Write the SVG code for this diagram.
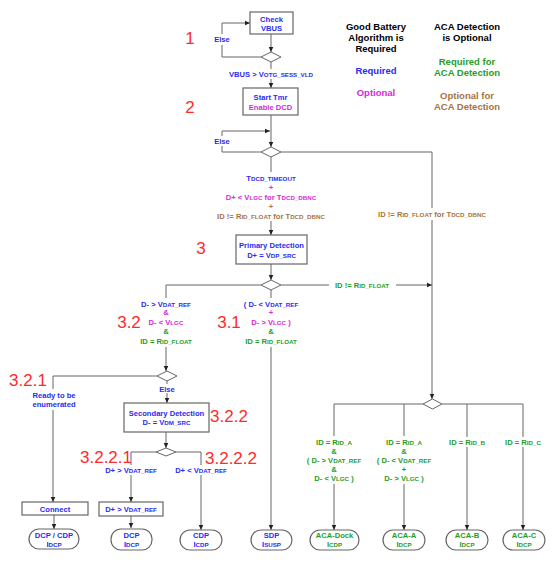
<svg xmlns="http://www.w3.org/2000/svg" width="554" height="563" viewBox="0 0 554 563">
<style>
text{font-family:"Liberation Sans",Arial,sans-serif;font-weight:bold;font-size:7.6px;text-anchor:middle}
.s{font-size:6.2px}
.b{fill:#2b2bf2}.m{fill:#d62ad6}.g{fill:#1f9e1f}.br{fill:#a8733f}.k{fill:#000}
.num{font-weight:normal;font-size:17px;fill:#ff2a2a}
.leg{font-size:9.5px}
.box{fill:#fff;stroke:#666;stroke-width:1.2}
.term{fill:#fff;stroke:#666;stroke-width:1.2}
.dia{fill:#fff;stroke:#666;stroke-width:1}
#connectors line,#connectors polyline{fill:none;stroke:#666;stroke-width:1}
</style>
<defs>
<marker id="ah" markerWidth="6" markerHeight="6" refX="5.5" refY="3" orient="auto" markerUnits="userSpaceOnUse">
<path d="M0,0.5 L5.5,3 L0,5.5 z" fill="#222"/>
</marker>
</defs>
<rect width="554" height="563" fill="#fff"/>

<g id="connectors">
<line x1="271" y1="34" x2="271" y2="52" marker-end="url(#ah)"/>
<polyline points="261,57 222,57 222,45"/>
<polyline points="222,34 222,23 250,23" marker-end="url(#ah)"/>
<line x1="271" y1="62" x2="271" y2="69"/>
<line x1="271" y1="79" x2="271" y2="88" marker-end="url(#ah)"/>
<line x1="271" y1="115" x2="271" y2="147" marker-end="url(#ah)"/>
<polyline points="261,152 222,152 222,146"/>
<polyline points="222,136 222,131 270,131" marker-end="url(#ah)"/>
<polyline points="281,152 432,152 432,208"/>
<line x1="432" y1="220" x2="432" y2="399" marker-end="url(#ah)"/>
<line x1="271" y1="157" x2="271" y2="172"/>
<line x1="271" y1="221" x2="271" y2="235" marker-end="url(#ah)"/>
<line x1="271" y1="264" x2="271" y2="280" marker-end="url(#ah)"/>
<polyline points="261,285 166,285 166,298"/>
<line x1="166" y1="347" x2="166" y2="371" marker-end="url(#ah)"/>
<line x1="281" y1="285" x2="329" y2="285"/>
<line x1="396" y1="285" x2="432" y2="285" marker-end="url(#ah)"/>
<line x1="271" y1="290" x2="271" y2="298"/>
<line x1="271" y1="347" x2="271" y2="530" marker-end="url(#ah)"/>
<polyline points="157,376 53,376 53,389"/>
<line x1="53" y1="410" x2="53" y2="502" marker-end="url(#ah)"/>
<line x1="167" y1="381" x2="167" y2="384"/>
<line x1="167" y1="393" x2="167" y2="403" marker-end="url(#ah)"/>
<line x1="166" y1="432" x2="166" y2="448" marker-end="url(#ah)"/>
<polyline points="156,452 131,452 131,465"/>
<line x1="131" y1="475" x2="131" y2="502" marker-end="url(#ah)"/>
<polyline points="176,452 201,452 201,465"/>
<line x1="201" y1="475" x2="201" y2="530" marker-end="url(#ah)"/>
<line x1="131" y1="516" x2="131" y2="528" marker-end="url(#ah)"/>
<line x1="54" y1="515" x2="54" y2="529" marker-end="url(#ah)"/>
<line x1="334" y1="404" x2="423" y2="404"/>
<line x1="442" y1="404" x2="523" y2="404"/>
<line x1="334" y1="404" x2="334" y2="436"/>
<line x1="334" y1="484" x2="334" y2="530" marker-end="url(#ah)"/>
<line x1="404" y1="404" x2="404" y2="436"/>
<line x1="404" y1="484" x2="404" y2="530" marker-end="url(#ah)"/>
<line x1="467" y1="404" x2="467" y2="437"/>
<line x1="467" y1="447" x2="467" y2="530" marker-end="url(#ah)"/>
<line x1="523" y1="404" x2="523" y2="437"/>
<line x1="523" y1="447" x2="523" y2="530" marker-end="url(#ah)"/>
</g>

<g id="legend">
<text class="leg k" x="376" y="30">Good Battery</text>
<text class="leg k" x="376" y="41">Algorithm is</text>
<text class="leg k" x="376" y="52">Required</text>
<text class="leg b" x="376" y="74">Required</text>
<text class="leg m" x="376" y="96">Optional</text>
<text class="leg k" x="467" y="30">ACA Detection</text>
<text class="leg k" x="467" y="41">is Optional</text>
<text class="leg g" x="467" y="65">Required for</text>
<text class="leg g" x="467" y="76">ACA Detection</text>
<text class="leg br" x="467" y="99">Optional for</text>
<text class="leg br" x="467" y="110">ACA Detection</text>
</g>

<g id="step-numbers">
<text class="num" x="190" y="44">1</text>
<text class="num" x="190" y="113">2</text>
<text class="num" x="201" y="254">3</text>
<text class="num" x="129" y="328">3.2</text>
<text class="num" x="229" y="328">3.1</text>
<text class="num" x="28" y="386">3.2.1</text>
<text class="num" x="229" y="422">3.2.2</text>
<text class="num" x="106" y="463">3.2.2.1</text>
<text class="num" x="231" y="464">3.2.2.2</text>
</g>

<g id="check-vbus">
<rect class="box" x="250" y="12" width="43" height="22"/>
<text class="b" x="271.5" y="22">Check</text>
<text class="b" x="271.5" y="31">VBUS</text>
</g>
<g id="dec-vbus">
<polygon class="dia" points="261,57 271,52 281,57 271,62"/>
<text class="b" x="222" y="42">Else</text>
<text class="b" x="271" y="77">VBUS &gt; V<tspan class="s">OTG_SESS_VLD</tspan></text>
</g>
<g id="start-tmr">
<rect class="box" x="243" y="88" width="55" height="27"/>
<text class="b" x="270.5" y="100">Start Tmr</text>
<text class="m" x="270.5" y="110">Enable DCD</text>
</g>
<g id="dec-dcd">
<polygon class="dia" points="261,152 271,147 281,152 271,157"/>
<text class="b" x="222" y="144">Else</text>
<text class="b" x="271" y="181">T<tspan class="s">DCD_TIMEOUT</tspan></text>
<text class="m" x="271" y="190">+</text>
<text class="m" x="271" y="200">D+ &lt; V<tspan class="s">LGC</tspan> for T<tspan class="s">DCD_DBNC</tspan></text>
<text class="br" x="271" y="209">+</text>
<text class="br" x="271" y="219">ID != R<tspan class="s">ID_FLOAT</tspan> for T<tspan class="s">DCD_DBNC</tspan></text>
<text class="br" x="432" y="217">ID != R<tspan class="s">ID_FLOAT</tspan> for T<tspan class="s">DCD_DBNC</tspan></text>
</g>
<g id="primary-detection">
<rect class="box" x="236" y="235" width="71" height="29"/>
<text class="b" x="271.5" y="248">Primary Detection</text>
<text class="b" x="271.5" y="258">D+ = V<tspan class="s">DP_SRC</tspan></text>
</g>
<g id="dec-primary">
<polygon class="dia" points="261,285 271,280 281,285 271,290"/>
<text class="g" x="362" y="288">ID != R<tspan class="s">ID_FLOAT</tspan></text>
<text class="b" x="166" y="307">D-  &gt; V<tspan class="s">DAT_REF</tspan></text>
<text class="m" x="166" y="315">&amp;</text>
<text class="m" x="166" y="325">D-  &lt; V<tspan class="s">LGC</tspan></text>
<text class="g" x="166" y="334">&amp;</text>
<text class="g" x="166" y="344">ID = R<tspan class="s">ID_FLOAT</tspan></text>
<text class="b" x="271" y="307">( D-  &lt; V<tspan class="s">DAT_REF</tspan></text>
<text class="m" x="271" y="315">+</text>
<text class="m" x="271" y="325">D- &gt; V<tspan class="s">LGC</tspan> )</text>
<text class="g" x="271" y="334">&amp;</text>
<text class="g" x="271" y="344">ID = R<tspan class="s">ID_FLOAT</tspan></text>
</g>
<g id="dec-32">
<polygon class="dia" points="157,376 167,371 177,376 167,381"/>
<text class="b" x="167" y="392">Else</text>
<text class="b" x="54" y="398">Ready to be</text>
<text class="b" x="54" y="407">enumerated</text>
</g>
<g id="secondary-detection">
<rect class="box" x="124" y="403" width="85" height="29"/>
<text class="b" x="166.5" y="416">Secondary Detection</text>
<text class="b" x="166.5" y="425">D- = V<tspan class="s">DM_SRC</tspan></text>
</g>
<g id="dec-secondary">
<polygon class="dia" points="156,452 166,448 176,452 166,456"/>
<text class="b" x="131" y="473">D+ &gt; V<tspan class="s">DAT_REF</tspan></text>
<text class="b" x="201" y="473">D+ &lt; V<tspan class="s">DAT_REF</tspan></text>
</g>
<g id="box-dp-vdat">
<rect class="box" x="99" y="502" width="64" height="14"/>
<text class="b" x="131" y="512">D+ &gt; V<tspan class="s">DAT_REF</tspan></text>
</g>
<g id="connect">
<rect class="box" x="22" y="502" width="66" height="13"/>
<text class="b" x="55" y="511.5">Connect</text>
</g>
<g id="term-dcp-cdp">
<rect class="term" x="29" y="529" width="50" height="20" rx="10"/>
<text class="b" x="54" y="538">DCP / CDP</text>
<text class="b" x="54" y="547">I<tspan class="s">DCP</tspan></text>
</g>
<g id="term-dcp">
<rect class="term" x="111" y="529" width="41" height="21" rx="10"/>
<text class="b" x="131.5" y="538">DCP</text>
<text class="b" x="131.5" y="547">I<tspan class="s">DCP</tspan></text>
</g>
<g id="term-cdp">
<rect class="term" x="180" y="530" width="42" height="20" rx="10"/>
<text class="b" x="201" y="538">CDP</text>
<text class="b" x="201" y="547">I<tspan class="s">CDP</tspan></text>
</g>
<g id="term-sdp">
<rect class="term" x="251" y="530" width="41" height="20" rx="10"/>
<text class="b" x="271.5" y="538">SDP</text>
<text class="b" x="271.5" y="547">I<tspan class="s">SUSP</tspan></text>
</g>
<g id="dec-aca">
<polygon class="dia" points="423,404 432.5,399 442,404 432.5,409"/>
<text class="g" x="334" y="444.5">ID = R<tspan class="s">ID_A</tspan></text>
<text class="g" x="334" y="453.5">&amp;</text>
<text class="g" x="334" y="463">( D-  &gt; V<tspan class="s">DAT_REF</tspan></text>
<text class="g" x="334" y="472">&amp;</text>
<text class="g" x="334" y="481">D-  &lt; V<tspan class="s">LGC</tspan> )</text>
<text class="g" x="404" y="444.5">ID = R<tspan class="s">ID_A</tspan></text>
<text class="g" x="404" y="453.5">&amp;</text>
<text class="g" x="404" y="463">( D-  &lt; V<tspan class="s">DAT_REF</tspan></text>
<text class="g" x="404" y="472">+</text>
<text class="g" x="404" y="481">D-  &gt; V<tspan class="s">LGC</tspan> )</text>
<text class="g" x="467" y="444.5">ID = R<tspan class="s">ID_B</tspan></text>
<text class="g" x="523" y="444.5">ID = R<tspan class="s">ID_C</tspan></text>
</g>
<g id="term-aca-dock">
<rect class="term" x="310" y="530" width="49" height="20" rx="10"/>
<text class="g" x="334.5" y="538">ACA-Dock</text>
<text class="g" x="334.5" y="547">I<tspan class="s">CDP</tspan></text>
</g>
<g id="term-aca-a">
<rect class="term" x="383" y="530" width="42" height="20" rx="10"/>
<text class="g" x="404" y="538">ACA-A</text>
<text class="g" x="404" y="547">I<tspan class="s">DCP</tspan></text>
</g>
<g id="term-aca-b">
<rect class="term" x="446" y="530" width="42" height="20" rx="10"/>
<text class="g" x="467" y="538">ACA-B</text>
<text class="g" x="467" y="547">I<tspan class="s">DCP</tspan></text>
</g>
<g id="term-aca-c">
<rect class="term" x="503" y="530" width="42" height="20" rx="10"/>
<text class="g" x="524" y="538">ACA-C</text>
<text class="g" x="524" y="547">I<tspan class="s">DCP</tspan></text>
</g>
</svg>
